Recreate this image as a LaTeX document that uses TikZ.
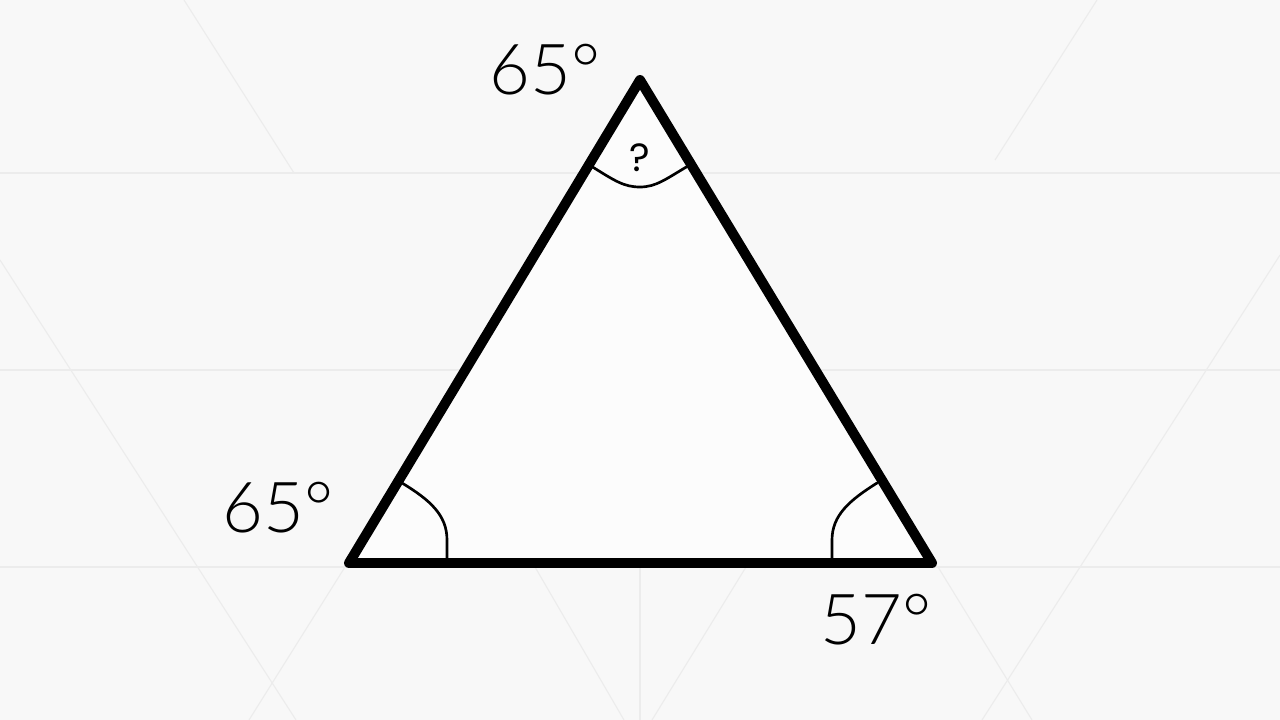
\documentclass[tikz,border=0pt]{standalone}
\usepackage{fontspec}
\IfFontExistsTF{Lato Light}{\setmainfont{Lato Light}}{%
	\IfFontExistsTF{Fira Sans Light}{\setmainfont{Fira Sans Light}}{\setmainfont{Poppins}}}
\newfontfamily\qfont{Poppins}
\usepackage{xcolor}
\usetikzlibrary{calc}
\definecolor{paper}{HTML}{F8F8F8}
\definecolor{grid}{HTML}{ECECEC}

\begin{document}
\begin{tikzpicture}[x=0.025cm, y=-0.025cm, line width=0.5pt,
			side/.style={line width=7.1pt, line join=round},
			anglemark/.style={line width=1.9pt, line cap=round},
			grid line/.style={draw=grid, line width=0.8pt},
			deg/.style={inner sep=0pt, font=\fontsize{50}{50}\selectfont}]
		\fill[paper] (0, 0) rectangle (1280, 720);
		\useasboundingbox (0, 0) rectangle (1280, 720);

		% faint background grid
		\foreach \y in {173, 370, 567}
			\draw[grid line] (0, \y) -- (1280, \y);
		\draw[grid line] (184, 0) -- (294, 173);
		\draw[grid line] (0, 260) -- (296, 720);
		\draw[grid line] (535, 567) -- (624, 720);
		\draw[grid line] (938, 567) -- (1032, 720);
		\draw[grid line] (1097, 0) -- (995, 160);
		\draw[grid line] (1280, 255) -- (982, 720);
		\draw[grid line] (345, 567) -- (249, 720);
		\draw[grid line] (746, 567) -- (652, 720);
		\draw[grid line] (640, 567) -- (640, 720);

		\coordinate (left) at (349, 563);
		\coordinate (right) at (932, 563);
		\coordinate (top) at (640, 80);

		\fill[white!60!paper] (left) -- (right) -- (top) -- cycle;

		% angle marks
		\draw[anglemark] (402, 483) .. controls (430, 500) and (447, 515) .. (447, 540) -- (447, 560);
		\draw[anglemark] (877, 483) .. controls (850, 500) and (832, 515) .. (832, 540) -- (832, 560);
		\draw[anglemark] (591, 166) .. controls (615, 181) and (624, 187) .. (640, 187)
			.. controls (656, 187) and (666, 179) .. (688, 166);

		\draw[side] (left) -- (right) -- (top) -- cycle;

		\node[deg] (topangle) at (545, 70) {65°};
		\node[deg] (leftangle) at (278, 508) {65°};
		\node[deg] (rightangle) at (876, 620) {57°};
		\node[inner sep=0pt, font=\qfont\fontsize{28}{28}\selectfont] (unknown) at (640, 158) {?};
	\end{tikzpicture}
\end{document}
